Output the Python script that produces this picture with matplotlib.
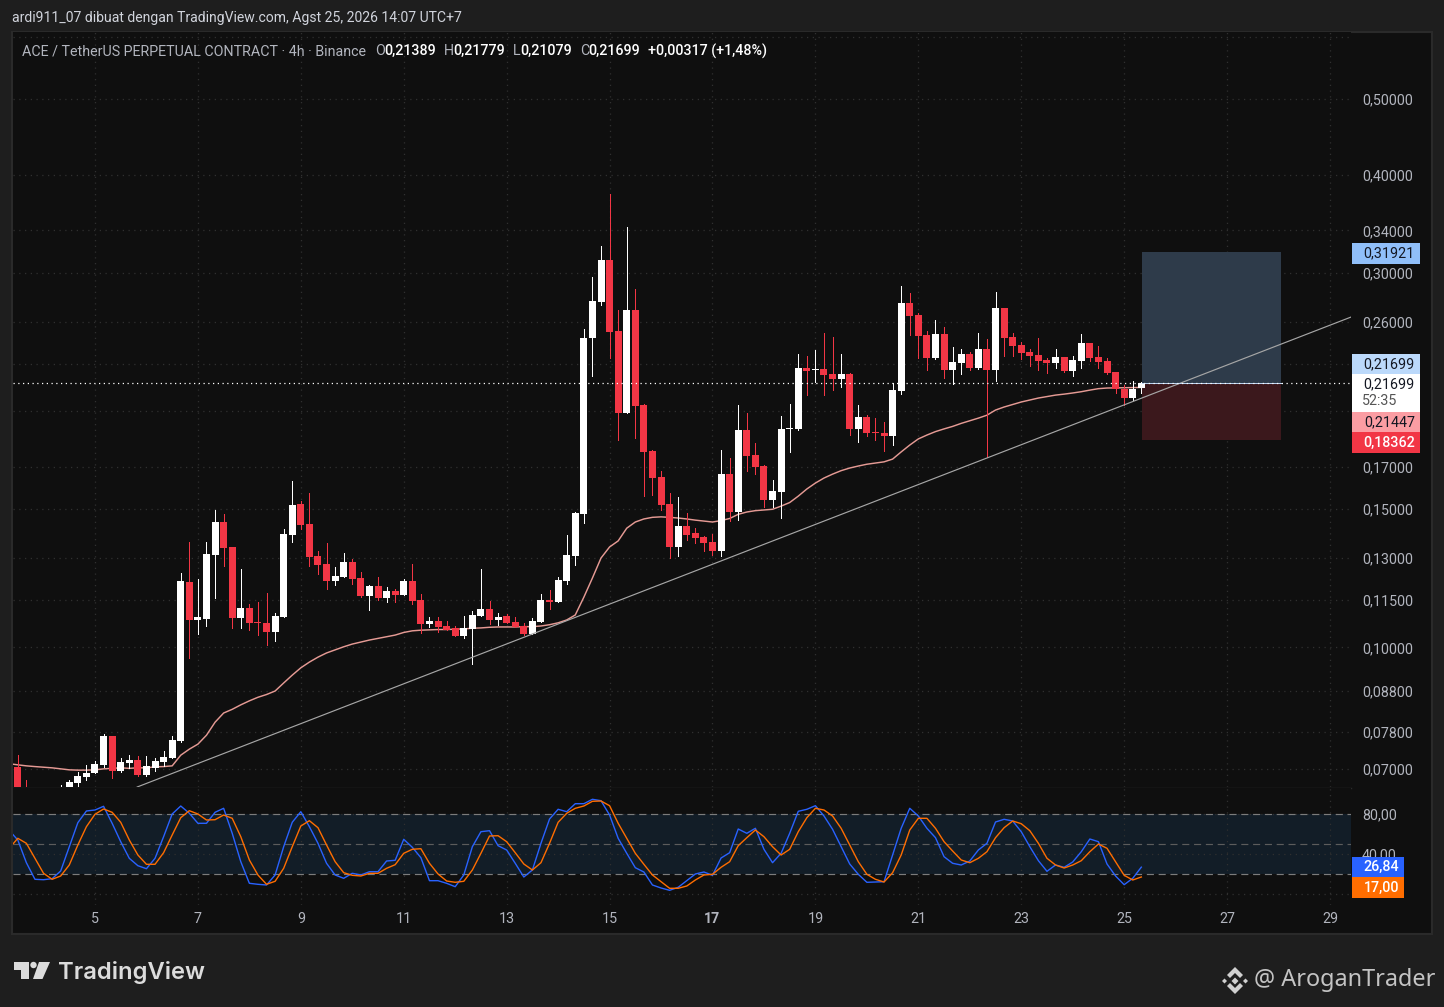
import numpy as np
import matplotlib
matplotlib.use("Agg")
import matplotlib.pyplot as plt
from matplotlib.patches import Rectangle, Polygon, Circle

plt.rcParams['font.family'] = ['Roboto', 'DejaVu Sans']

# candles, 4h bars
opens = [.0704, .0658, .0630, .0617, .0632, .0643, .0658, .0672, .0684, .0692,
         .0708, .0771, .0696, .0713, .0719, .0688, .0702, .0715, .0723, .0760,
         .1212, .1084, .1087, .1312, .1445, .1343, .1091, .1123, .1078, .1075,
         .1047, .1094, .1391, .1523, .1436, .1308, .1278, .1215, .1230, .1285,
         .1226, .1163, .1198, .1156, .1181, .1167, .1215, .1149, .1072, .1081,
         .1065, .1059, .1034, .1056, .1097, .1119, .1084, .1097, .1078, .1065,
         .1041, .1078, .1149, .1142, .1215, .1308, .1480, .2480, .2756, .3117,
         .2530, .1989, .2692, .2037, .1780, .1649, .1523, .1343, .1428, .1399,
         .1383, .1363, .1327, .1663, .1488, .1893, .1759, .1703, .1541, .1578,
         .1899, .1899, .2270, .2257, .2264, .2231, .2198, .2231, .1899, .1966,
         .1882, .1876, .1860, .2122, .2749, .2652, .2501, .2338, .2508, .2257,
         .2304, .2365, .2270, .2400, .2257, .2708, .2487, .2429, .2379, .2358,
         .2324, .2304, .2344, .2250, .2317, .2443, .2344, .2317, .2244, .2134,
         .2079, .21389]
closes = [.0639, .0630, .0617, .0635, .0650, .0658, .0674, .0686, .0692, .0711,
          .0771, .0696, .0715, .0719, .0688, .0706, .0717, .0725, .0762, .1215,
          .1084, .1094, .1316, .1445, .1339, .1091, .1123, .1075, .1075, .1047,
          .1097, .1395, .1519, .1432, .1304, .1274, .1215, .1233, .1285, .1223,
          .1163, .1198, .1156, .1181, .1167, .1215, .1146, .1072, .1081, .1062,
          .1053, .1034, .1059, .1100, .1119, .1084, .1094, .1075, .1062, .1041,
          .1081, .1149, .1142, .1219, .1312, .1484, .2480, .2764, .3117, .2523,
          .1989, .2692, .2031, .1775, .1644, .1519, .1343, .1428, .1391, .1379,
          .1359, .1327, .1663, .1488, .1893, .1754, .1698, .1541, .1582, .1899,
          .1904, .2270, .2250, .2264, .2224, .2198, .2231, .1899, .1966, .1876,
          .1876, .1860, .2128, .2749, .2644, .2494, .2338, .2508, .2257, .2310,
          .2365, .2270, .2400, .2257, .2708, .2480, .2422, .2372, .2351, .2317,
          .2304, .2344, .2250, .2324, .2443, .2338, .2310, .2237, .2134, .2079,
          .2134, .21699]
highs = [.0729, .0678, .0640, .0642, .0658, .0668, .0678, .0694, .0708, .0717,
         .0776, .0771, .0723, .0729, .0727, .0727, .0723, .0738, .0771, .1244,
         .1363, .1223, .1363, .1497, .1480, .1343, .1259, .1136, .1142, .1174,
         .1106, .1415, .1629, .1537, .1573, .1327, .1359, .1266, .1320, .1297,
         .1248, .1201, .1230, .1194, .1187, .1223, .1278, .1170, .1094, .1094,
         .1081, .1065, .1097, .1113, .1259, .1146, .1106, .1103, .1094, .1075,
         .1091, .1170, .1184, .1230, .1391, .1488, .2546, .2965, .3248, .3783,
         .2692, .3434, .2862, .2043, .1785, .1678, .1573, .1555, .1484, .1419,
         .1387, .1395, .1785, .1743, .2037, .1989, .1821, .1708, .1634, .1972,
         .2043, .2365, .2351, .2393, .2516, .2487, .2365, .2237, .2037, .1977,
         .1960, .1938, .2173, .2888, .2830, .2668, .2530, .2614, .2560, .2414,
         .2400, .2379, .2516, .2472, .2837, .2708, .2516, .2450, .2400, .2480,
         .2338, .2400, .2344, .2351, .2508, .2443, .2422, .2338, .2244, .2160,
         .2185, .21779]
lows = [.0621, .0612, .0605, .0610, .0625, .0635, .0650, .0666, .0678, .0692,
        .0704, .0682, .0694, .0702, .0686, .0686, .0696, .0706, .0723, .0758,
        .0970, .1041, .1065, .1156, .1270, .1059, .1059, .1053, .1037, .1007,
        .1019, .1094, .1363, .1415, .1270, .1240, .1187, .1201, .1230, .1205,
        .1160, .1116, .1149, .1142, .1142, .1167, .1136, .1044, .1062, .1047,
        .1053, .1034, .1028, .0953, .1097, .1072, .1069, .1075, .1062, .1037,
        .1041, .1078, .1119, .1142, .1205, .1274, .1440, .2219, .2732, .2338,
        .1838, .1989, .1849, .1559, .1564, .1497, .1300, .1308, .1371, .1359,
        .1327, .1312, .1308, .1449, .1453, .1678, .1663, .1510, .1510, .1462,
        .1775, .1893, .2097, .2179, .2097, .2128, .2147, .1865, .1827, .1860,
        .1838, .1780, .1811, .2104, .2501, .2338, .2257, .2331, .2205, .2166,
        .2231, .2257, .2264, .1749, .2185, .2351, .2351, .2331, .2284, .2257,
        .2237, .2270, .2244, .2218, .2270, .2317, .2270, .2231, .2110, .2037,
        .2067, .21079]

# moving average
ema = [.07086, .07065, .07050, .07038, .07024, .07003, .06983, .06977, .06977, .06983,
       .07003, .07014, .07024, .07014, .07024, .07024, .07045, .07050, .07065, .0729,
       .0742, .0753, .0773, .0803, .0825, .0834, .0845, .0855, .0864, .0871,
       .0880, .0901, .0922, .0942, .0958, .0972, .0984, .0993, .1002, .1010,
       .1016, .1022, .1027, .1032, .1037, .1045, .1050, .1052, .1053, .1054,
       .1054, .1055, .1056, .1058, .1059, .1061, .1062, .1062, .1062, .1063,
       .1063, .1065, .1069, .1075, .1084, .1100, .1159, .1226, .1300, .1343,
       .1367, .1419, .1445, .1458, .1465, .1467, .1465, .1462, .1458, .1453,
       .1449, .1445, .1451, .1460, .1478, .1488, .1494, .1497, .1500, .1514,
       .1530, .1559, .1592, .1620, .1644, .1663, .1680, .1693, .1703, .1712,
       .1718, .1724, .1738, .1775, .1811, .1844, .1865, .1884, .1899, .1913,
       .1930, .1945, .1960, .1977, .2007, .2025, .2040, .2055, .2067, .2079,
       .2088, .2097, .2103, .2110, .2118, .2128, .2137, .2141, .2142, .2143,
       .2144, .21447]

# stochastic RSI
stoch_k = [54, 31.3, 14.7, 14.3, 15.3, 23, 47.3, 71.3, 83, 84,
           87.7, 70.7, 52.3, 35.7, 28.3, 25.3, 35.7, 57.3, 80, 88,
           80.7, 70.7, 70.7, 81.7, 85.7, 60.7, 32.3, 10.7, 9.7, 9,
           19, 47.3, 71.7, 82.3, 67.3, 50.7, 30.7, 19, 15.7, 20.7,
           19, 22.3, 22.3, 33, 33.7, 54.7, 46.7, 36.3, 13.3, 13.3,
           10.7, 7.3, 19, 47.3, 62.3, 63.3, 48.3, 44, 30.7, 17,
           24, 50.7, 75, 84.7, 82.3, 90.3, 90.3, 94.7, 93.3, 79,
           55.7, 40.7, 26.3, 22, 9, 6, 3.7, 6.7, 13.3, 20,
           22, 18.7, 36, 41.3, 65, 60.7, 65.7, 44.7, 31.3, 40.7,
           60.7, 82.7, 84.7, 88.3, 78, 64.7, 47.3, 30, 19.7, 11.7,
           12, 12.3, 39, 65.7, 85.7, 78, 65.7, 56.3, 37.3, 30.7,
           29, 33, 44, 50.7, 72, 74.7, 73, 62.3, 47.3, 33.3,
           22.7, 29, 26.7, 32, 42.3, 55, 52.3, 30, 18, 9.3,
           15.7, 26.84]
stoch_d = [55.7, 50.7, 35.7, 20.7, 14.7, 18, 29, 49, 67.3, 79.7,
           85, 81.7, 71.7, 54, 39, 29.7, 29.7, 41.3, 59, 76.3,
           83.3, 80, 74, 74.3, 79, 75.7, 57.3, 34, 19, 9.7,
           12.7, 25.7, 47.3, 68, 73.3, 66.3, 49, 32.3, 21.3, 18.7,
           18, 20.7, 20.7, 25.7, 29.3, 40.7, 44.7, 45.3, 30.7, 20,
           13, 11.7, 12.7, 24, 40.7, 58, 58.3, 52.3, 41.3, 30,
           24, 31.3, 50.7, 71.7, 80.7, 85.7, 88, 92.7, 93, 88.3,
           70.7, 55.7, 40.7, 29.7, 19, 12.3, 5.7, 5.7, 8, 14,
           19, 19.7, 26.7, 32.3, 48.3, 56.3, 64, 57.3, 47.3, 39,
           44.7, 62.3, 76.3, 85.7, 84, 78, 65.7, 49, 32.3, 19.7,
           14.7, 12, 21.3, 39, 64, 75.7, 75.7, 65.7, 52.3, 43,
           34, 31.3, 35.7, 42.3, 56.3, 66.3, 73, 70.3, 63.3, 50.7,
           35.7, 29, 26, 29, 33.3, 42.3, 50, 45.7, 32.3, 18.7,
           14, 17]

# the bar just left of the window, the lines come in from it
ema_prev = .0711
stoch_k_prev = 63.6
stoch_d_prev = 45.6

# axis ticks
price_ticks = [0.07, 0.078, 0.088, 0.10, 0.115, 0.13, 0.15, 0.17, 0.26, 0.30, 0.34, 0.40, 0.50]
price_grid_only = [0.20, 0.23, 0.60]
stoch_ticks = [40, 80]
stoch_bands = [20, 50, 80]
day_ticks = [5, 7, 9, 11, 13, 15, 17, 19, 21, 23, 25, 27, 29]

# drawings: trend line and long position box
trend_days = [5.82, 29.41]
trend_prices = [0.0664, 0.2637]
box_days = [25.35, 28.05]
target_price = 0.31921
entry_price = 0.21699
stop_price = 0.18362
last_price = 0.21699

W, H = 1444, 1007
FS = 10.3
days = 3.5 + np.arange(len(closes)) / 6
line_days = 3.5 + np.arange(-1, len(closes)) / 6
opens, closes, highs, lows = map(np.array, (opens, closes, highs, lows))

BG = "#1e1e1e"
PANEL = "#0f0f0f"
BORDER = "#2a2a2a"
GRID = "#303030"
TXT = "#b2b5be"
WHITE = "#ffffff"
RED = "#f23645"


def px_axes(x0, y0, x1, y1, **kw):
    # axes placed by pixel box, y measured from the top
    return fig.add_axes([x0 / W, 1 - y1 / H, (x1 - x0) / W, (y1 - y0) / H], **kw)


fig = plt.figure(figsize=(W / 100, H / 100), dpi=100, facecolor=BG)

# panel behind everything, in pixels
back = px_axes(0, 0, W, H, zorder=0)
back.set_xlim(0, W)
back.set_ylim(H, 0)
back.axis("off")
back.add_patch(Rectangle((12, 32), 1420, 902, fc=PANEL, ec=BORDER, lw=1.5))

# price pane
ax = px_axes(12.5, 32, 1351, 787, zorder=2)
ax.set_facecolor(PANEL)
ax.set_yscale("log")
ax.set_xlim(3.397, 29.408)
ax.set_ylim(0.0664, 0.6086)

ax.add_patch(Rectangle((box_days[0], entry_price), box_days[1] - box_days[0], target_price - entry_price,
                       fc="#2e3b4a", ec="none", zorder=1))
ax.add_patch(Rectangle((box_days[0], stop_price), box_days[1] - box_days[0], entry_price - stop_price,
                       fc="#3b181c", ec="none", zorder=1))
ax.plot(line_days, [ema_prev] + ema, color="#e59a94", lw=1.05, zorder=2)

up = closes >= opens
colors = np.where(up, WHITE, RED)
ax.vlines(days, lows, highs, colors=colors, lw=0.7, antialiased=False, zorder=3)
ax.bar(days, np.abs(closes - opens), bottom=np.minimum(opens, closes), width=0.136,
       color=colors, linewidth=0, zorder=4)

ax.plot(trend_days, trend_prices, color="#a6a6a6", lw=0.85, zorder=5)
ax.plot(box_days, [entry_price, entry_price], color="#bcd6f5", lw=0.7, zorder=5)
ax.axhline(last_price, color=WHITE, lw=0.9, ls=(0, (1, 2.8)), zorder=5)

ax.set_xticks(day_ticks)
ax.set_xticklabels([])
ax.set_yticks(price_ticks)
ax.set_yticks(price_grid_only, minor=True)
ax.yaxis.set_minor_formatter(matplotlib.ticker.NullFormatter())
ax.set_yticklabels([f"{p:.5f}".replace(".", ",") for p in price_ticks])
ax.yaxis.tick_right()
ax.tick_params(axis="both", which="both", length=0)
ax.tick_params(axis="y", labelsize=FS, labelcolor=TXT, pad=8)
ax.grid(True, which="both", color=GRID, lw=0.9, ls=(0, (1, 3.6)))
ax.set_axisbelow(True)
for s in ax.spines.values():
    s.set_visible(False)

# stochastic pane
sub = px_axes(12.5, 788, 1351, 905, zorder=2)
sub.set_facecolor(PANEL)
sub.set_xlim(3.397, 29.408)
sub.set_ylim(-11, 106)
sub.axhspan(stoch_bands[0], stoch_bands[-1], color="#121d27", lw=0, zorder=0.5)
for b in stoch_bands:
    sub.axhline(b, color="#7c7c7c" if b != 50 else "#5c5c5c", lw=0.85, ls=(0, (6, 4)), zorder=1)
sub.plot(line_days, [stoch_k_prev] + stoch_k, color="#2962ff", lw=1.0, zorder=3)
sub.plot(line_days, [stoch_d_prev] + stoch_d, color="#ff6d00", lw=1.0, zorder=4)
sub.set_xticks(day_ticks)
sub.set_xticklabels([str(d) for d in day_ticks])
for lab in sub.get_xticklabels():
    if lab.get_text() == "17":
        lab.set_fontweight("bold")
sub.set_yticks(stoch_ticks + [0])
sub.set_yticklabels([f"{v},00" for v in stoch_ticks] + [""])
sub.yaxis.tick_right()
sub.tick_params(axis="both", length=0)
sub.tick_params(axis="x", labelsize=FS, labelcolor=TXT, pad=5)
sub.tick_params(axis="y", labelsize=FS, labelcolor=TXT, pad=8)
sub.grid(True, color=GRID, lw=0.9, ls=(0, (1, 3.6)))
sub.set_axisbelow(True)
for s in sub.spines.values():
    s.set_visible(False)

# separator between the panes
back.plot([12, 1351], [787.5, 787.5], color=BORDER, lw=1)

# overlay for badges and texts, in pixels
top = px_axes(0, 0, W, H, zorder=5)
top.set_xlim(0, W)
top.set_ylim(H, 0)
top.axis("off")
top.patch.set_alpha(0)


def badge(y0, y1, color, label, txt_color, x1=1420, right=1415, weight="normal"):
    top.add_patch(Rectangle((1352, y0), x1 - 1352, y1 - y0, fc=color, ec="none"))
    top.text(right, (y0 + y1) / 2, label, color=txt_color, fontsize=FS, ha="right", va="center", weight=weight)


badge(243, 264, "#90bff9", "0,31921", "#131722")
badge(354, 374, "#bbd9fb", "0,21699", "#131722")
top.add_patch(Rectangle((1352, 374), 68, 38, fc=WHITE, ec="none"))
top.text(1415, 384, "0,21699", color="#131722", fontsize=FS, ha="right", va="center")
top.text(1362, 401, "52:35", color="#555555", fontsize=FS, ha="left", va="center")
badge(412, 432, "#fb9da3", "0,21447", "#131722")
badge(432, 453, RED, "0,18362", WHITE, weight="medium")
badge(857, 877, "#2962ff", "26,84", WHITE, x1=1404, right=1399, weight="medium")
badge(877, 898, "#ff6d00", "17,00", WHITE, x1=1404, right=1399, weight="medium")

# header
top.text(12, 18, "ardi911_07 dibuat dengan TradingView.com, Agst 25, 2026 14:07 UTC+7",
         color="#d1d4dc", fontsize=FS - 0.2, va="center")
top.text(22, 51, "ACE / TetherUS PERPETUAL CONTRACT · 4h · Binance", color=TXT, fontsize=FS, va="center")
ohlc_text = [(375, "O", 384, "0,21389"), (444, "H", 453, "0,21779"), (513, "L", 520, "0,21079"), (580, "C", 588, "0,21699")]
for x0, letter, x1, val in ohlc_text:
    top.text(x0, 51, letter, color=TXT, fontsize=FS, va="center")
    top.text(x1, 51, val, color=WHITE, fontsize=FS, va="center", weight="medium")
top.text(648, 51, "+0,00317 (+1,48%)", color=WHITE, fontsize=FS, va="center", weight="medium")

# footer: TradingView logo and text
LOGO = "#dcdcdc"
top.add_patch(Polygon([(14, 962), (29, 962), (29, 979), (21, 979), (21, 970), (14, 970)], fc=LOGO, ec="none"))
top.add_patch(Circle((33.5, 965), 3.2, fc=LOGO, ec="none"))
top.add_patch(Polygon([(39, 962), (50, 962), (42.5, 979), (33, 979)], fc=LOGO, ec="none"))
top.text(58, 972, "TradingView", color=LOGO, fontsize=17.1, va="center", weight="semibold",
         family=["Inter", "DejaVu Sans"])

# footer: watermark
MARK = "#d0d0d0"
top.add_patch(Polygon([(1235, 967), (1243, 975), (1240, 978), (1235, 973), (1230, 978), (1227, 975)], fc=MARK, ec="none"))
top.add_patch(Polygon([(1235, 994), (1243, 986), (1240, 983), (1235, 988), (1230, 983), (1227, 986)], fc=MARK, ec="none"))
top.add_patch(Polygon([(1235, 977.5), (1238.5, 981), (1235, 984.5), (1231.5, 981)], fc=MARK, ec="none"))
top.add_patch(Polygon([(1224.5, 978.5), (1227, 981), (1224.5, 983.5), (1222, 981)], fc=MARK, ec="none"))
top.add_patch(Polygon([(1245.5, 978.5), (1248, 981), (1245.5, 983.5), (1243, 981)], fc=MARK, ec="none"))
top.text(1254, 980, "@ AroganTrader", color="#c4c4c4", fontsize=16.9, va="center",
         family=["Noto Sans", "DejaVu Sans"])

fig.savefig("out.png", dpi=100, facecolor=BG)
